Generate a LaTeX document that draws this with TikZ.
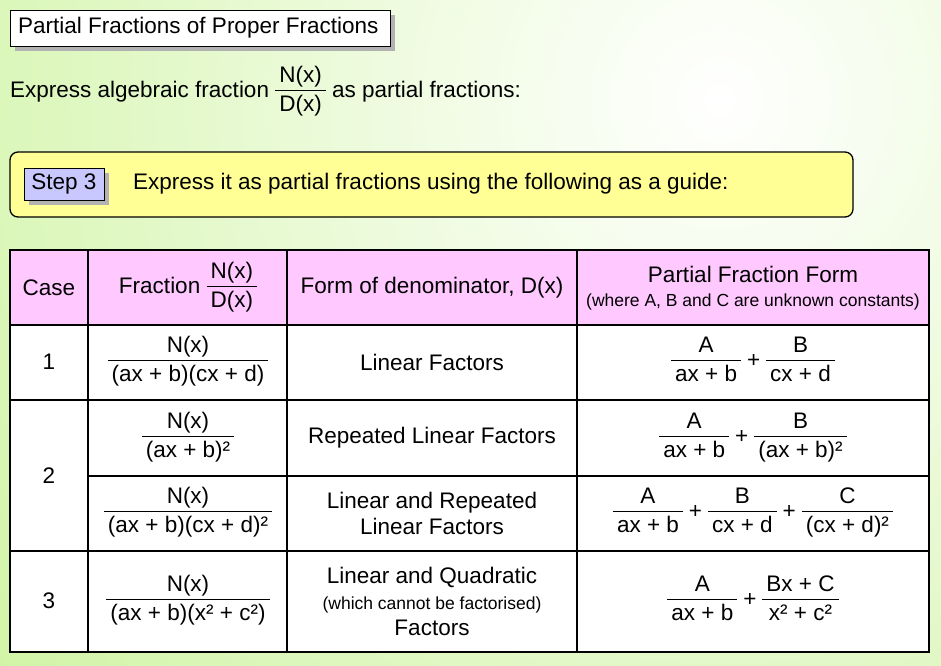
\documentclass[tikz,border=0pt]{standalone}
\usepackage{fontspec}
\setmainfont{Liberation Sans}
\definecolor{bggreen}{RGB}{190,240,130}
\definecolor{yel}{RGB}{255,255,150}
\definecolor{lav}{RGB}{200,200,255}
\definecolor{pinkh}{RGB}{255,200,255}
\newcommand\fr[2]{\begin{tabular}{@{\hspace{4pt}}c@{\hspace{4pt}}}#1\\[0pt]\hline\rule{0pt}{21pt}#2\end{tabular}}
\newcommand\pl{\hspace{6pt}+\hspace{6pt}}
\tikzset{
  txt/.style={font=\fontsize{22.5}{26}\selectfont, inner sep=0pt, align=center},
  cell/.style={draw=black, line width=1.3pt},
  shadowbox/.style={fill=gray!60}
}
\newcommand\sm{\fontsize{17.5}{20}\selectfont}
\begin{document}
\begin{tikzpicture}[x=1pt,y=-1pt]
\useasboundingbox (0,0) rectangle (941,665);
\begin{scope}
\clip (0,0) rectangle (941,665);
\fill[bggreen] (0,0) rectangle (941,665);
\shade[inner color=white, outer color=bggreen] (720,100) circle (1300);
\end{scope}
% title
\fill[shadowbox] (15,15) rectangle (395,51);
\draw[fill=white, line width=0.8pt] (10,10) rectangle (390,46);
\node[txt, anchor=west] (title) at (18,28) {Partial Fractions of Proper Fractions};
% expression
\node[txt, anchor=west] (expr) at (10,92) {Express algebraic fraction \fr{N(x)}{D(x)} as partial fractions:};
% step box
\draw[fill=yel, line width=1.3pt, rounded corners=8pt] (10,152) rectangle (853,217);
\fill[shadowbox] (29,173) rectangle (109,205);
\draw[fill=lav, line width=0.6pt] (24,168) rectangle (104,200);
\node[txt] (step) at (64,184) {Step 3};
\node[txt, anchor=west] (steptxt) at (133,184) {Express it as partial fractions using the following as a guide:};
% table
\fill[pinkh] (10,250) rectangle (929,325);
\fill[white] (10,325) rectangle (929,652);
\draw[cell] (10,250) rectangle (929,652);
\foreach \x in {88,287,577} \draw[cell] (\x,250) -- (\x,652);
\foreach \y in {325,400,551} \draw[cell] (10,\y) -- (929,\y);
\draw[cell] (88,476) -- (929,476);
% header
\node[txt] (h1) at (49,288) {Case};
\node[txt] (h2) at (188,288) {Fraction \fr{N(x)}{D(x)}};
\node[txt] (h3) at (432,288) {Form of denominator, D(x)};
\node[txt] (h4) at (753,288) {Partial Fraction Form\\[-2pt]{\sm (where A, B and C are unknown constants)}};
% rows
\node[txt] (c1) at (49,362) {1};
\node[txt] (c2) at (49,476) {2};
\node[txt] (c3) at (49,601) {3};
\node[txt] (f1) at (188,362) {\fr{N(x)}{(ax + b)(cx + d)}};
\node[txt] (f2) at (188,438) {\fr{N(x)}{(ax + b)²}};
\node[txt] (f3) at (188,513) {\fr{N(x)}{(ax + b)(cx + d)²}};
\node[txt] (f4) at (188,601) {\fr{N(x)}{(ax + b)(x² + c²)}};
\node[txt] (d1) at (432,362) {Linear Factors};
\node[txt] (d2) at (432,438) {Repeated Linear Factors};
\node[txt] (d3) at (432,513) {Linear and Repeated\\[0pt]Linear Factors};
\node[txt] (d4) at (432,601) {Linear and Quadratic\\[0pt]{\sm(which cannot be factorised)}\\[0pt]Factors};
\node[txt] (p1) at (753,362) {\fr{A}{ax + b}\pl\fr{B}{cx + d}};
\node[txt] (p2) at (753,438) {\fr{A}{ax + b}\pl\fr{B}{(ax + b)²}};
\node[txt] (p3) at (753,513) {\fr{A}{ax + b}\pl\fr{B}{cx + d}\pl\fr{C}{(cx + d)²}};
\node[txt] (p4) at (753,601) {\fr{A}{ax + b}\pl\fr{Bx + C}{x² + c²}};
\end{tikzpicture}
\end{document}
